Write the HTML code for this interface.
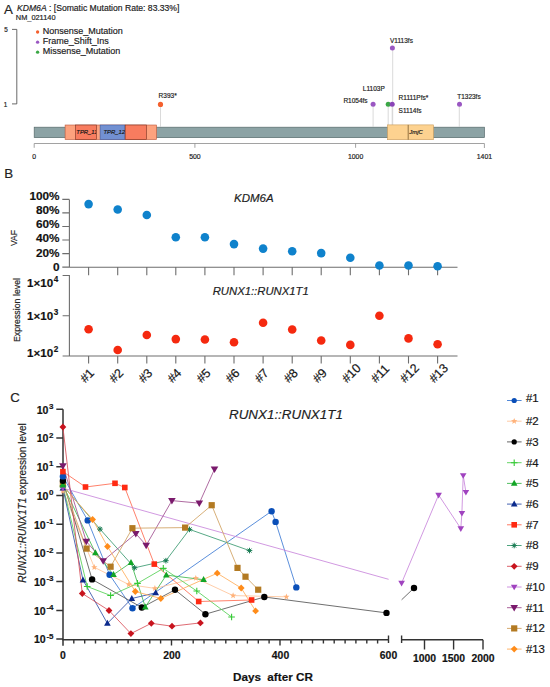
<!DOCTYPE html>
<html><head><meta charset="utf-8">
<style>
html,body{margin:0;padding:0;background:#fff;}
svg{display:block;}
text{font-family:"Liberation Sans",sans-serif;stroke:currentColor;stroke-width:0.18px;}
text{color:#222;}
</style></head>
<body>
<svg width="550" height="687" viewBox="0 0 550 687">
<rect width="550" height="687" fill="#fff"/>
<g id="A">
<text x="4" y="13.7" font-size="13.3" fill="#222">A</text>
<text x="17" y="10.6" font-size="8.6" fill="#222"><tspan font-style="italic">KDM6A</tspan><tspan> : [Somatic Mutation Rate: 83.33%]</tspan></text>
<text x="15.8" y="20" font-size="7.4" fill="#222">NM_021140</text>
<path d="M12 29.4H16.8V103.9H12" stroke="#444" stroke-width="0.8" fill="none"/>
<text x="7.8" y="32.2" font-size="6.3" text-anchor="end" fill="#222">5</text>
<text x="7.2" y="106.6" font-size="6.3" text-anchor="end" fill="#222">1</text>
<circle cx="37.6" cy="32" r="1.65" fill="#f4602e"/>
<circle cx="37.6" cy="42.2" r="1.65" fill="#9a57c2"/>
<circle cx="37.6" cy="52.2" r="1.65" fill="#3aa845"/>
<g font-size="9" fill="#222">
<text x="42.7" y="33.6">Nonsense_Mutation</text>
<text x="42.7" y="43.9">Frame_Shift_Ins</text>
<text x="42.7" y="54.1">Missense_Mutation</text>
</g>
<g stroke="#d0d0d0" stroke-width="0.8">
<path d="M160.5 104.4V126.6"/>
<path d="M373.1 104V126.6"/>
<path d="M388.2 104V125"/>
<path d="M392.2 104V125"/>
<path d="M392.7 48V125"/>
<path d="M459.3 104.2V126.6"/>
</g>
<rect x="34.2" y="127.2" width="450.2" height="10.4" fill="#8ca3a5" stroke="#56696b" stroke-width="0.7"/>
<rect x="65.1" y="125" width="91.5" height="14.6" fill="#fda27e" stroke="#b8583c" stroke-width="0.6"/>
<rect x="75.5" y="125" width="20.9" height="14.6" fill="#f87c5f" stroke="#7a3020" stroke-width="0.6"/>
<rect x="100.1" y="125" width="24.8" height="14.6" fill="#7290d2" stroke="#3f5a9e" stroke-width="0.6"/>
<rect x="125.2" y="125" width="21.2" height="14.6" fill="#f87c5f" stroke="#7a3020" stroke-width="0.6"/>
<rect x="387.5" y="124.9" width="46" height="14.8" fill="#fdd290" stroke="#c89a5a" stroke-width="0.6"/>
<path d="M408.2 124.9V139.7" stroke="#8a6a3a" stroke-width="0.9"/>
<clipPath id="c1"><rect x="75.5" y="125" width="20.6" height="14.6"/></clipPath>
<clipPath id="c2"><rect x="100.1" y="125" width="24.9" height="14.6"/></clipPath>
<g font-size="5.9" font-style="italic" fill="#111">
<text x="76.3" y="134.2" clip-path="url(#c1)">TPR_11</text>
<text x="103.4" y="134.2" clip-path="url(#c2)">TPR_12</text>
<text x="409.3" y="134.4">JmjC</text>
</g>
<circle cx="160.5" cy="104.4" r="2.6" fill="#f4602e"/>
<circle cx="373.1" cy="104.3" r="2.5" fill="#9a57c2"/>
<circle cx="388.2" cy="104.3" r="2.5" fill="#3aa845"/>
<circle cx="392.2" cy="104.3" r="2.5" fill="#8a44b8"/>
<circle cx="392.4" cy="48" r="2.5" fill="#9a57c2"/>
<circle cx="459.5" cy="104.3" r="2.5" fill="#9a57c2"/>
<g font-size="6.5" fill="#222">
<text x="158.6" y="98.2">R393*</text>
<text x="343.4" y="103.3">R1054fs</text>
<text x="362.8" y="91.4">L1103P</text>
<text x="398.6" y="100">R1111Pfs*</text>
<text x="398.6" y="112.7">S1114fs</text>
<text x="390" y="43.2">V1113fs</text>
<text x="457.2" y="98.8">T1323fs</text>
</g>
<path d="M34.2 147.8V143.5H484.4V148M194.9 143.5V147.8M355.6 143.5V147.8" stroke="#8a8a8a" stroke-width="0.8" fill="none"/>
<g font-size="6.9" fill="#222" text-anchor="middle">
<text x="34.2" y="158.6">0</text>
<text x="194.9" y="158.6">500</text>
<text x="355.6" y="158.6">1000</text>
<text x="484.4" y="158.6">1401</text>
</g>
</g>
<g id="B">
<text x="4.2" y="177.8" font-size="13.3" fill="#222">B</text>
<path d="M69.4 199.4V267.3H457.5M62.3 199.4H69.4M62.3 212.9H69.4M62.3 226.5H69.4M62.3 240.0H69.4M62.3 253.6H69.4M62.3 267.1H69.4M88.6 267.3V275.2M117.7 267.3V275.2M146.8 267.3V275.2M175.8 267.3V275.2M204.9 267.3V275.2M234.0 267.3V275.2M263.1 267.3V275.2M292.2 267.3V275.2M321.2 267.3V275.2M350.3 267.3V275.2M379.4 267.3V275.2M408.5 267.3V275.2M437.6 267.3V275.2" stroke="#6e6e6e" stroke-width="1.1" fill="none"/>
<g font-size="11.8" font-weight="bold" fill="#111" text-anchor="end">
<text x="59.6" y="200.1">100%</text>
<text x="59.6" y="214.3">80%</text>
<text x="59.6" y="228.3">60%</text>
<text x="59.6" y="242.3">40%</text>
<text x="59.6" y="257.1">20%</text>
<text x="59.6" y="271.4">0</text>
</g>
<text transform="translate(17,238) rotate(-90)" font-size="8.6" fill="#222" text-anchor="middle">VAF</text>
<text x="234" y="202.2" font-size="11.5" font-style="italic" fill="#222">KDM6A</text>
<circle cx="88.6" cy="204.1" r="4.3" fill="#0f82cc"/>
<circle cx="117.7" cy="209.5" r="4.3" fill="#0f82cc"/>
<circle cx="146.8" cy="215.0" r="4.3" fill="#0f82cc"/>
<circle cx="175.8" cy="237.3" r="4.3" fill="#0f82cc"/>
<circle cx="204.9" cy="237.3" r="4.3" fill="#0f82cc"/>
<circle cx="234.0" cy="244.1" r="4.3" fill="#0f82cc"/>
<circle cx="263.1" cy="248.6" r="4.3" fill="#0f82cc"/>
<circle cx="292.2" cy="251.2" r="4.3" fill="#0f82cc"/>
<circle cx="321.2" cy="253.1" r="4.3" fill="#0f82cc"/>
<circle cx="350.3" cy="257.8" r="4.3" fill="#0f82cc"/>
<circle cx="379.4" cy="265.5" r="4.3" fill="#0f82cc"/>
<circle cx="408.5" cy="265.5" r="4.3" fill="#0f82cc"/>
<circle cx="437.6" cy="266.2" r="4.3" fill="#0f82cc"/>
<path d="M62.6 275.5H69.4V356H457.5M62.6 315.7H69.4M62.6 356H69.4M88.6 356V363.5M117.7 356V363.5M146.8 356V363.5M175.8 356V363.5M204.9 356V363.5M234.0 356V363.5M263.1 356V363.5M292.2 356V363.5M321.2 356V363.5M350.3 356V363.5M379.4 356V363.5M408.5 356V363.5M437.6 356V363.5" stroke="#6e6e6e" stroke-width="1.1" fill="none"/>
<g font-size="11.6" font-weight="bold" fill="#111">
<text x="27.1" y="287.2">1×10<tspan font-size="8.2" dy="-4.8" dx="0.4">4</tspan></text>
<text x="27.1" y="319.6">1×10<tspan font-size="8.2" dy="-4.8" dx="0.4">3</tspan></text>
<text x="27.1" y="357.2">1×10<tspan font-size="8.2" dy="-4.8" dx="0.4">2</tspan></text>
</g>
<text transform="translate(20,310) rotate(-90)" font-size="8.8" fill="#222" text-anchor="middle">Expression level</text>
<text x="212.7" y="295.4" font-size="11.3" font-style="italic" fill="#222">RUNX1::RUNX1T1</text>
<circle cx="88.6" cy="329.2" r="4.3" fill="#f5290f"/>
<circle cx="117.7" cy="350.0" r="4.3" fill="#f5290f"/>
<circle cx="146.8" cy="335.0" r="4.3" fill="#f5290f"/>
<circle cx="175.8" cy="339.1" r="4.3" fill="#f5290f"/>
<circle cx="204.9" cy="339.5" r="4.3" fill="#f5290f"/>
<circle cx="234.0" cy="342.3" r="4.3" fill="#f5290f"/>
<circle cx="263.1" cy="322.7" r="4.3" fill="#f5290f"/>
<circle cx="292.2" cy="329.5" r="4.3" fill="#f5290f"/>
<circle cx="321.2" cy="340.5" r="4.3" fill="#f5290f"/>
<circle cx="350.3" cy="344.9" r="4.3" fill="#f5290f"/>
<circle cx="379.4" cy="315.8" r="4.3" fill="#f5290f"/>
<circle cx="408.5" cy="338.4" r="4.3" fill="#f5290f"/>
<circle cx="437.6" cy="344.2" r="4.3" fill="#f5290f"/>
<g font-size="12.5" fill="#111" stroke="#111" stroke-width="0.25">
<text transform="translate(85.2,383.6) rotate(-45)">#1</text>
<text transform="translate(114.3,383.6) rotate(-45)">#2</text>
<text transform="translate(143.4,383.6) rotate(-45)">#3</text>
<text transform="translate(172.4,383.6) rotate(-45)">#4</text>
<text transform="translate(201.5,383.6) rotate(-45)">#5</text>
<text transform="translate(230.6,383.6) rotate(-45)">#6</text>
<text transform="translate(259.7,383.6) rotate(-45)">#7</text>
<text transform="translate(288.8,383.6) rotate(-45)">#8</text>
<text transform="translate(317.8,383.6) rotate(-45)">#9</text>
<text transform="translate(346.9,383.6) rotate(-45)">#10</text>
<text transform="translate(376.0,383.6) rotate(-45)">#11</text>
<text transform="translate(405.1,383.6) rotate(-45)">#12</text>
<text transform="translate(434.2,383.6) rotate(-45)">#13</text>
</g>
</g>
<g id="C">
<text x="10.2" y="401.6" font-size="13.2" fill="#222">C</text>
<text x="229" y="419.4" font-size="13.4" font-style="italic" fill="#222">RUNX1::RUNX1T1</text>
<text transform="translate(25.6,503) rotate(-90)" font-size="10" fill="#222" text-anchor="middle"><tspan font-style="italic">RUNX1::RUNX1T1</tspan> expression level</text>
<g font-weight="bold" fill="#111" text-anchor="end">
<text x="53.5" y="413.5" font-size="10.6">10<tspan font-size="8" dy="-4.7" dx="0.6">3</tspan></text>
<text x="53.5" y="442.2" font-size="10.6">10<tspan font-size="8" dy="-4.7" dx="0.6">2</tspan></text>
<text x="53.5" y="471.0" font-size="10.6">10<tspan font-size="8" dy="-4.7" dx="0.6">1</tspan></text>
<text x="53.5" y="499.7" font-size="10.6">10<tspan font-size="8" dy="-4.7" dx="0.6">0</tspan></text>
<text x="53.5" y="528.5" font-size="10.6">10<tspan font-size="8" dy="-4.7" dx="0.6">-1</tspan></text>
<text x="53.5" y="557.2" font-size="10.6">10<tspan font-size="8" dy="-4.7" dx="0.6">-2</tspan></text>
<text x="53.5" y="585.9" font-size="10.6">10<tspan font-size="8" dy="-4.7" dx="0.6">-3</tspan></text>
<text x="53.5" y="614.7" font-size="10.6">10<tspan font-size="8" dy="-4.7" dx="0.6">-4</tspan></text>
<text x="53.5" y="643.4" font-size="10.6">10<tspan font-size="8" dy="-4.7" dx="0.6">-5</tspan></text>
</g>
<path d="M63 409.2V645.7M56.3 409.2H63M56.3 437.9H63M56.3 466.7H63M56.3 495.4H63M56.3 524.2H63M56.3 552.9H63M56.3 581.6H63M56.3 610.4H63M56.3 639.1H63" stroke="#333" stroke-width="1.5" fill="none"/>
<path d="M62.3 639.8H388.5M388.5 635.5V643M73.8 639.8V643.6M84.7 639.8V643.6M95.5 639.8V643.6M106.4 639.8V643.6M117.2 639.8V643.6M128.1 639.8V643.6M138.9 639.8V643.6M149.8 639.8V643.6M160.6 639.8V643.6M171.5 639.8V645.6M182.3 639.8V643.6M193.2 639.8V643.6M204.0 639.8V643.6M214.9 639.8V643.6M225.8 639.8V643.6M236.6 639.8V643.6M247.4 639.8V643.6M258.3 639.8V643.6M269.1 639.8V643.6M280.0 639.8V645.6M290.9 639.8V643.6M301.7 639.8V643.6M312.5 639.8V643.6M323.4 639.8V643.6M334.2 639.8V643.6M345.1 639.8V643.6M355.9 639.8V643.6M366.8 639.8V643.6M377.6 639.8V643.6M401.6 635.5V643M401.6 639.8H483M424.5 639.8V649.4M453.6 639.8V649.4M483 639.8V649.4" stroke="#333" stroke-width="1.4" fill="none"/>
<polyline points="62.9,476.4 87.7,520.4 109.6,574.8 132.5,608.3 271.6,511.2 275.6,521.9 296.3,587.4" fill="none" stroke="#3d7bd4" stroke-width="0.85"/>
<polyline points="62.9,491.0 94.3,567.3 128.8,584.5 154.9,588.4 195.8,578.2 233.1,595.6 286.4,596.8" fill="none" stroke="#ffc49a" stroke-width="0.85"/>
<polyline points="62.9,480.8 92.1,579.4 141.8,607.5 175.0,589.8 205.4,614.2 264.3,597.0 386.5,612.9" fill="none" stroke="#555555" stroke-width="0.85"/>
<polyline points="401.6,599.8 414.0,588.0" fill="none" stroke="#555555" stroke-width="0.85"/>
<polyline points="62.9,486.0 87.2,586.5 110.6,595.5 137.5,583.4 163.3,568.4 196.8,591.0 231.6,617.0" fill="none" stroke="#55d055" stroke-width="0.85"/>
<polyline points="62.9,485.0 95.4,552.8 113.5,574.6 131.0,562.6 145.3,607.0 166.3,575.1 203.6,579.7" fill="none" stroke="#3fb84f" stroke-width="0.85"/>
<polyline points="62.9,488.2 83.0,580.0 107.4,623.4 131.8,598.5 155.7,592.8" fill="none" stroke="#3050a8" stroke-width="0.85"/>
<polyline points="62.9,471.6 85.5,487.0 115.0,483.3 124.8,487.5 154.3,564.1 198.7,601.5 251.6,600.0" fill="none" stroke="#ff6a50" stroke-width="0.85"/>
<polyline points="62.9,485.5 100.0,529.1 134.6,567.8 165.9,560.7 189.5,529.4 249.5,550.6" fill="none" stroke="#3a9a70" stroke-width="0.85"/>
<polyline points="62.9,427.0 82.3,593.5 109.0,610.5 130.9,633.6 151.3,623.3 172.0,626.2 200.4,622.9" fill="none" stroke="#d8505a" stroke-width="0.85"/>
<polyline points="62.9,488.2 388.6,579.3" fill="none" stroke="#c987dc" stroke-width="0.85"/>
<polyline points="401.6,583.0 438.6,495.0 460.8,528.5 461.9,513.2 463.2,475.4 465.9,492.1" fill="none" stroke="#c987dc" stroke-width="0.85"/>
<polyline points="62.9,465.8 86.3,541.4 103.2,560.8 135.8,533.6 146.2,545.3 171.9,500.6 199.3,503.2 214.5,469.2" fill="none" stroke="#a05090" stroke-width="0.85"/>
<polyline points="62.9,484.0 86.6,548.6 110.6,566.7 132.4,528.2 185.1,527.6 211.7,505.2 237.5,567.9 245.5,576.7 258.2,589.7" fill="none" stroke="#d0a060" stroke-width="0.85"/>
<polyline points="62.9,486.0 92.6,519.5 107.5,546.5 135.3,591.5 160.8,598.5 217.2,573.2 241.2,588.0 255.6,610.9" fill="none" stroke="#ffad5a" stroke-width="0.85"/>
<rect x="59.8" y="480.9" width="6.2" height="6.2" fill="#b37a22"/>
<path d="M62.9 482.6L66.3 486.0L62.9 489.4L59.5 486.0Z" fill="#ff8c1a"/>
<path d="M59.6 486.0H66.2M62.9 482.7V489.3" stroke="#35c935" stroke-width="1.10"/>
<path d="M60.1 485.5H65.7M62.9 482.7V488.3M60.9 483.5L64.9 487.5M60.9 487.5L64.9 483.5" stroke="#1c7d55" stroke-width="1.00"/><circle cx="62.9" cy="485.5" r="1.30" fill="#1c7d55"/>
<path d="M62.90 487.70L63.72 489.87L66.04 489.98L64.23 491.43L64.84 493.67L62.90 492.40L60.96 493.67L61.57 491.43L59.76 489.98L62.08 489.87Z" fill="#ffb27a"/>
<path d="M62.9 484.6L66.2 490.6L59.6 490.6Z" fill="#0b2a8c"/>
<path d="M62.9 491.6L66.2 486.0L59.6 486.0Z" fill="#a043bf"/>
<path d="M62.9 481.4L66.2 487.4L59.6 487.4Z" fill="#12a526"/>
<circle cx="62.9" cy="480.8" r="3.20" fill="#000000"/>
<circle cx="62.9" cy="476.4" r="3.20" fill="#0a4fb8"/>
<rect x="60.1" y="468.8" width="5.6" height="5.6" fill="#ff2a12"/>
<path d="M62.9 469.7L66.7 463.2L59.1 463.2Z" fill="#7a1a6c"/>
<path d="M62.9 423.6L66.3 427.0L62.9 430.4L59.5 427.0Z" fill="#c8141e"/>
<circle cx="87.7" cy="520.4" r="3.20" fill="#0a4fb8"/>
<circle cx="109.6" cy="574.8" r="3.20" fill="#0a4fb8"/>
<circle cx="132.5" cy="608.3" r="3.20" fill="#0a4fb8"/>
<circle cx="271.6" cy="511.2" r="3.20" fill="#0a4fb8"/>
<circle cx="275.6" cy="521.9" r="3.20" fill="#0a4fb8"/>
<circle cx="296.3" cy="587.4" r="3.20" fill="#0a4fb8"/>
<path d="M94.30 564.00L95.12 566.17L97.44 566.28L95.63 567.73L96.24 569.97L94.30 568.70L92.36 569.97L92.97 567.73L91.16 566.28L93.48 566.17Z" fill="#ffb27a"/>
<path d="M128.80 581.20L129.62 583.37L131.94 583.48L130.13 584.93L130.74 587.17L128.80 585.90L126.86 587.17L127.47 584.93L125.66 583.48L127.98 583.37Z" fill="#ffb27a"/>
<path d="M154.90 585.10L155.72 587.27L158.04 587.38L156.23 588.83L156.84 591.07L154.90 589.80L152.96 591.07L153.57 588.83L151.76 587.38L154.08 587.27Z" fill="#ffb27a"/>
<path d="M195.80 574.90L196.62 577.07L198.94 577.18L197.13 578.63L197.74 580.87L195.80 579.60L193.86 580.87L194.47 578.63L192.66 577.18L194.98 577.07Z" fill="#ffb27a"/>
<path d="M233.10 592.30L233.92 594.47L236.24 594.58L234.43 596.03L235.04 598.27L233.10 597.00L231.16 598.27L231.77 596.03L229.96 594.58L232.28 594.47Z" fill="#ffb27a"/>
<path d="M286.40 593.50L287.22 595.67L289.54 595.78L287.73 597.23L288.34 599.47L286.40 598.20L284.46 599.47L285.07 597.23L283.26 595.78L285.58 595.67Z" fill="#ffb27a"/>
<circle cx="92.1" cy="579.4" r="3.20" fill="#000000"/>
<circle cx="141.8" cy="607.5" r="3.20" fill="#000000"/>
<circle cx="175.0" cy="589.8" r="3.20" fill="#000000"/>
<circle cx="205.4" cy="614.2" r="3.20" fill="#000000"/>
<circle cx="264.3" cy="597.0" r="3.20" fill="#000000"/>
<circle cx="386.5" cy="612.9" r="3.20" fill="#000000"/>
<circle cx="414.0" cy="588.0" r="3.20" fill="#000000"/>
<path d="M83.9 586.5H90.5M87.2 583.2V589.8" stroke="#35c935" stroke-width="1.10"/>
<path d="M107.3 595.5H113.9M110.6 592.2V598.8" stroke="#35c935" stroke-width="1.10"/>
<path d="M134.2 583.4H140.8M137.5 580.1V586.7" stroke="#35c935" stroke-width="1.10"/>
<path d="M160.0 568.4H166.6M163.3 565.1V571.7" stroke="#35c935" stroke-width="1.10"/>
<path d="M193.5 591.0H200.1M196.8 587.7V594.3" stroke="#35c935" stroke-width="1.10"/>
<path d="M228.3 617.0H234.9M231.6 613.7V620.3" stroke="#35c935" stroke-width="1.10"/>
<path d="M95.4 549.2L98.7 555.2L92.1 555.2Z" fill="#12a526"/>
<path d="M113.5 571.0L116.8 577.0L110.2 577.0Z" fill="#12a526"/>
<path d="M131.0 559.0L134.3 565.0L127.7 565.0Z" fill="#12a526"/>
<path d="M145.3 603.4L148.6 609.4L142.0 609.4Z" fill="#12a526"/>
<path d="M166.3 571.5L169.6 577.5L163.0 577.5Z" fill="#12a526"/>
<path d="M203.6 576.1L206.9 582.1L200.3 582.1Z" fill="#12a526"/>
<path d="M83.0 576.4L86.3 582.4L79.7 582.4Z" fill="#0b2a8c"/>
<path d="M107.4 619.8L110.7 625.8L104.1 625.8Z" fill="#0b2a8c"/>
<path d="M131.8 594.9L135.1 600.9L128.5 600.9Z" fill="#0b2a8c"/>
<path d="M155.7 589.2L159.0 595.2L152.4 595.2Z" fill="#0b2a8c"/>
<rect x="82.7" y="484.2" width="5.6" height="5.6" fill="#ff2a12"/>
<rect x="112.2" y="480.5" width="5.6" height="5.6" fill="#ff2a12"/>
<rect x="122.0" y="484.7" width="5.6" height="5.6" fill="#ff2a12"/>
<rect x="151.5" y="561.3" width="5.6" height="5.6" fill="#ff2a12"/>
<rect x="195.9" y="598.7" width="5.6" height="5.6" fill="#ff2a12"/>
<rect x="248.8" y="597.2" width="5.6" height="5.6" fill="#ff2a12"/>
<path d="M97.2 529.1H102.8M100.0 526.3V531.9M98.0 527.1L102.0 531.1M98.0 531.1L102.0 527.1" stroke="#1c7d55" stroke-width="1.00"/><circle cx="100.0" cy="529.1" r="1.30" fill="#1c7d55"/>
<path d="M131.8 567.8H137.4M134.6 565.0V570.6M132.6 565.8L136.6 569.8M132.6 569.8L136.6 565.8" stroke="#1c7d55" stroke-width="1.00"/><circle cx="134.6" cy="567.8" r="1.30" fill="#1c7d55"/>
<path d="M163.1 560.7H168.7M165.9 557.9V563.5M163.9 558.7L167.9 562.7M163.9 562.7L167.9 558.7" stroke="#1c7d55" stroke-width="1.00"/><circle cx="165.9" cy="560.7" r="1.30" fill="#1c7d55"/>
<path d="M186.7 529.4H192.3M189.5 526.6V532.2M187.5 527.4L191.5 531.4M187.5 531.4L191.5 527.4" stroke="#1c7d55" stroke-width="1.00"/><circle cx="189.5" cy="529.4" r="1.30" fill="#1c7d55"/>
<path d="M246.7 550.6H252.3M249.5 547.8V553.4M247.5 548.6L251.5 552.6M247.5 552.6L251.5 548.6" stroke="#1c7d55" stroke-width="1.00"/><circle cx="249.5" cy="550.6" r="1.30" fill="#1c7d55"/>
<path d="M82.3 590.1L85.7 593.5L82.3 596.9L78.9 593.5Z" fill="#c8141e"/>
<path d="M109.0 607.1L112.4 610.5L109.0 613.9L105.6 610.5Z" fill="#c8141e"/>
<path d="M130.9 630.2L134.3 633.6L130.9 637.0L127.5 633.6Z" fill="#c8141e"/>
<path d="M151.3 619.9L154.7 623.3L151.3 626.7L147.9 623.3Z" fill="#c8141e"/>
<path d="M172.0 622.8L175.4 626.2L172.0 629.6L168.6 626.2Z" fill="#c8141e"/>
<path d="M200.4 619.5L203.8 622.9L200.4 626.3L197.0 622.9Z" fill="#c8141e"/>
<path d="M401.6 586.4L404.9 580.8L398.3 580.8Z" fill="#a043bf"/>
<path d="M438.6 498.4L441.9 492.8L435.3 492.8Z" fill="#a043bf"/>
<path d="M460.8 531.9L464.1 526.3L457.5 526.3Z" fill="#a043bf"/>
<path d="M461.9 516.6L465.2 511.0L458.6 511.0Z" fill="#a043bf"/>
<path d="M463.2 478.8L466.5 473.2L459.9 473.2Z" fill="#a043bf"/>
<path d="M465.9 495.5L469.2 489.9L462.6 489.9Z" fill="#a043bf"/>
<path d="M86.3 545.3L90.1 538.8L82.5 538.8Z" fill="#7a1a6c"/>
<path d="M103.2 564.7L107.0 558.2L99.4 558.2Z" fill="#7a1a6c"/>
<path d="M135.8 537.5L139.6 531.0L132.0 531.0Z" fill="#7a1a6c"/>
<path d="M146.2 549.2L150.0 542.7L142.4 542.7Z" fill="#7a1a6c"/>
<path d="M171.9 504.5L175.7 498.0L168.1 498.0Z" fill="#7a1a6c"/>
<path d="M199.3 507.1L203.1 500.6L195.5 500.6Z" fill="#7a1a6c"/>
<path d="M214.5 473.1L218.3 466.6L210.7 466.6Z" fill="#7a1a6c"/>
<rect x="83.5" y="545.5" width="6.2" height="6.2" fill="#b37a22"/>
<rect x="107.5" y="563.6" width="6.2" height="6.2" fill="#b37a22"/>
<rect x="129.3" y="525.1" width="6.2" height="6.2" fill="#b37a22"/>
<rect x="182.0" y="524.5" width="6.2" height="6.2" fill="#b37a22"/>
<rect x="208.6" y="502.1" width="6.2" height="6.2" fill="#b37a22"/>
<rect x="234.4" y="564.8" width="6.2" height="6.2" fill="#b37a22"/>
<rect x="242.4" y="573.6" width="6.2" height="6.2" fill="#b37a22"/>
<rect x="255.1" y="586.6" width="6.2" height="6.2" fill="#b37a22"/>
<path d="M92.6 516.1L96.0 519.5L92.6 522.9L89.2 519.5Z" fill="#ff8c1a"/>
<path d="M107.5 543.1L110.9 546.5L107.5 549.9L104.1 546.5Z" fill="#ff8c1a"/>
<path d="M135.3 588.1L138.7 591.5L135.3 594.9L131.9 591.5Z" fill="#ff8c1a"/>
<path d="M160.8 595.1L164.2 598.5L160.8 601.9L157.4 598.5Z" fill="#ff8c1a"/>
<path d="M217.2 569.8L220.6 573.2L217.2 576.6L213.8 573.2Z" fill="#ff8c1a"/>
<path d="M241.2 584.6L244.6 588.0L241.2 591.4L237.8 588.0Z" fill="#ff8c1a"/>
<path d="M255.6 607.5L259.0 610.9L255.6 614.3L252.2 610.9Z" fill="#ff8c1a"/>
<g font-size="10.4" font-weight="bold" fill="#111" text-anchor="middle">
<text x="63.0" y="658.6">0</text>
<text x="171.9" y="658.6">200</text>
<text x="280.5" y="658.6">400</text>
<text x="388.5" y="658.6">600</text>
<text x="424.5" y="662">1000</text>
<text x="453.6" y="662">1500</text>
<text x="483.0" y="662">2000</text>
</g>
<text x="272.9" y="680.6" font-size="11.7" font-weight="bold" fill="#111" text-anchor="middle">Days&#160; after CR</text>
<path d="M507 400.5H521.6" stroke="#3d7bd4" stroke-width="0.9"/>
<circle cx="514.2" cy="400.5" r="2.62" fill="#0a4fb8"/>
<text x="525.9" y="401.8" font-size="11.4" fill="#111">#1</text>
<path d="M507 421.2H521.6" stroke="#ffc49a" stroke-width="0.9"/>
<path d="M514.20 417.92L515.02 420.09L517.34 420.20L515.53 421.65L516.14 423.89L514.20 422.62L512.26 423.89L512.87 421.65L511.06 420.20L513.38 420.09Z" fill="#ffb27a"/>
<text x="525.9" y="425.1" font-size="11.4" fill="#111">#2</text>
<path d="M507 441.9H521.6" stroke="#555555" stroke-width="0.9"/>
<circle cx="514.2" cy="441.9" r="2.62" fill="#000000"/>
<text x="525.9" y="445.8" font-size="11.4" fill="#111">#3</text>
<path d="M507 462.7H521.6" stroke="#55d055" stroke-width="0.9"/>
<path d="M510.9 462.7H517.5M514.2 459.4V466.0" stroke="#35c935" stroke-width="1.10"/>
<text x="525.9" y="466.6" font-size="11.4" fill="#111">#4</text>
<path d="M507 483.4H521.6" stroke="#3fb84f" stroke-width="0.9"/>
<path d="M514.2 479.8L517.5 485.8L510.9 485.8Z" fill="#12a526"/>
<text x="525.9" y="487.3" font-size="11.4" fill="#111">#5</text>
<path d="M507 504.1H521.6" stroke="#3050a8" stroke-width="0.9"/>
<path d="M514.2 500.5L517.5 506.5L510.9 506.5Z" fill="#0b2a8c"/>
<text x="525.9" y="508.0" font-size="11.4" fill="#111">#6</text>
<path d="M507 524.8H521.6" stroke="#ff6a50" stroke-width="0.9"/>
<rect x="511.4" y="522.0" width="5.6" height="5.6" fill="#ff2a12"/>
<text x="525.9" y="528.7" font-size="11.4" fill="#111">#7</text>
<path d="M507 545.5H521.6" stroke="#3a9a70" stroke-width="0.9"/>
<path d="M511.4 545.5H517.0M514.2 542.7V548.3M512.2 543.5L516.2 547.6M512.2 547.6L516.2 543.5" stroke="#1c7d55" stroke-width="1.00"/><circle cx="514.2" cy="545.5" r="1.30" fill="#1c7d55"/>
<text x="525.9" y="549.4" font-size="11.4" fill="#111">#8</text>
<path d="M507 566.3H521.6" stroke="#d8505a" stroke-width="0.9"/>
<path d="M514.2 562.9L517.6 566.3L514.2 569.7L510.8 566.3Z" fill="#c8141e"/>
<text x="525.9" y="570.2" font-size="11.4" fill="#111">#9</text>
<path d="M507 587.0H521.6" stroke="#c987dc" stroke-width="0.9"/>
<path d="M514.2 590.3L517.5 584.7L510.9 584.7Z" fill="#a043bf"/>
<text x="525.9" y="590.9" font-size="11.4" fill="#111">#10</text>
<path d="M507 607.7H521.6" stroke="#a05090" stroke-width="0.9"/>
<path d="M514.2 611.6L518.0 605.1L510.4 605.1Z" fill="#7a1a6c"/>
<text x="525.9" y="611.6" font-size="11.4" fill="#111">#11</text>
<path d="M507 628.4H521.6" stroke="#d0a060" stroke-width="0.9"/>
<rect x="511.1" y="625.3" width="6.2" height="6.2" fill="#b37a22"/>
<text x="525.9" y="632.3" font-size="11.4" fill="#111">#12</text>
<path d="M507 649.1H521.6" stroke="#ffad5a" stroke-width="0.9"/>
<path d="M514.2 645.7L517.6 649.1L514.2 652.5L510.8 649.1Z" fill="#ff8c1a"/>
<text x="525.9" y="653.0" font-size="11.4" fill="#111">#13</text>
</g>
</svg>
</body></html>
